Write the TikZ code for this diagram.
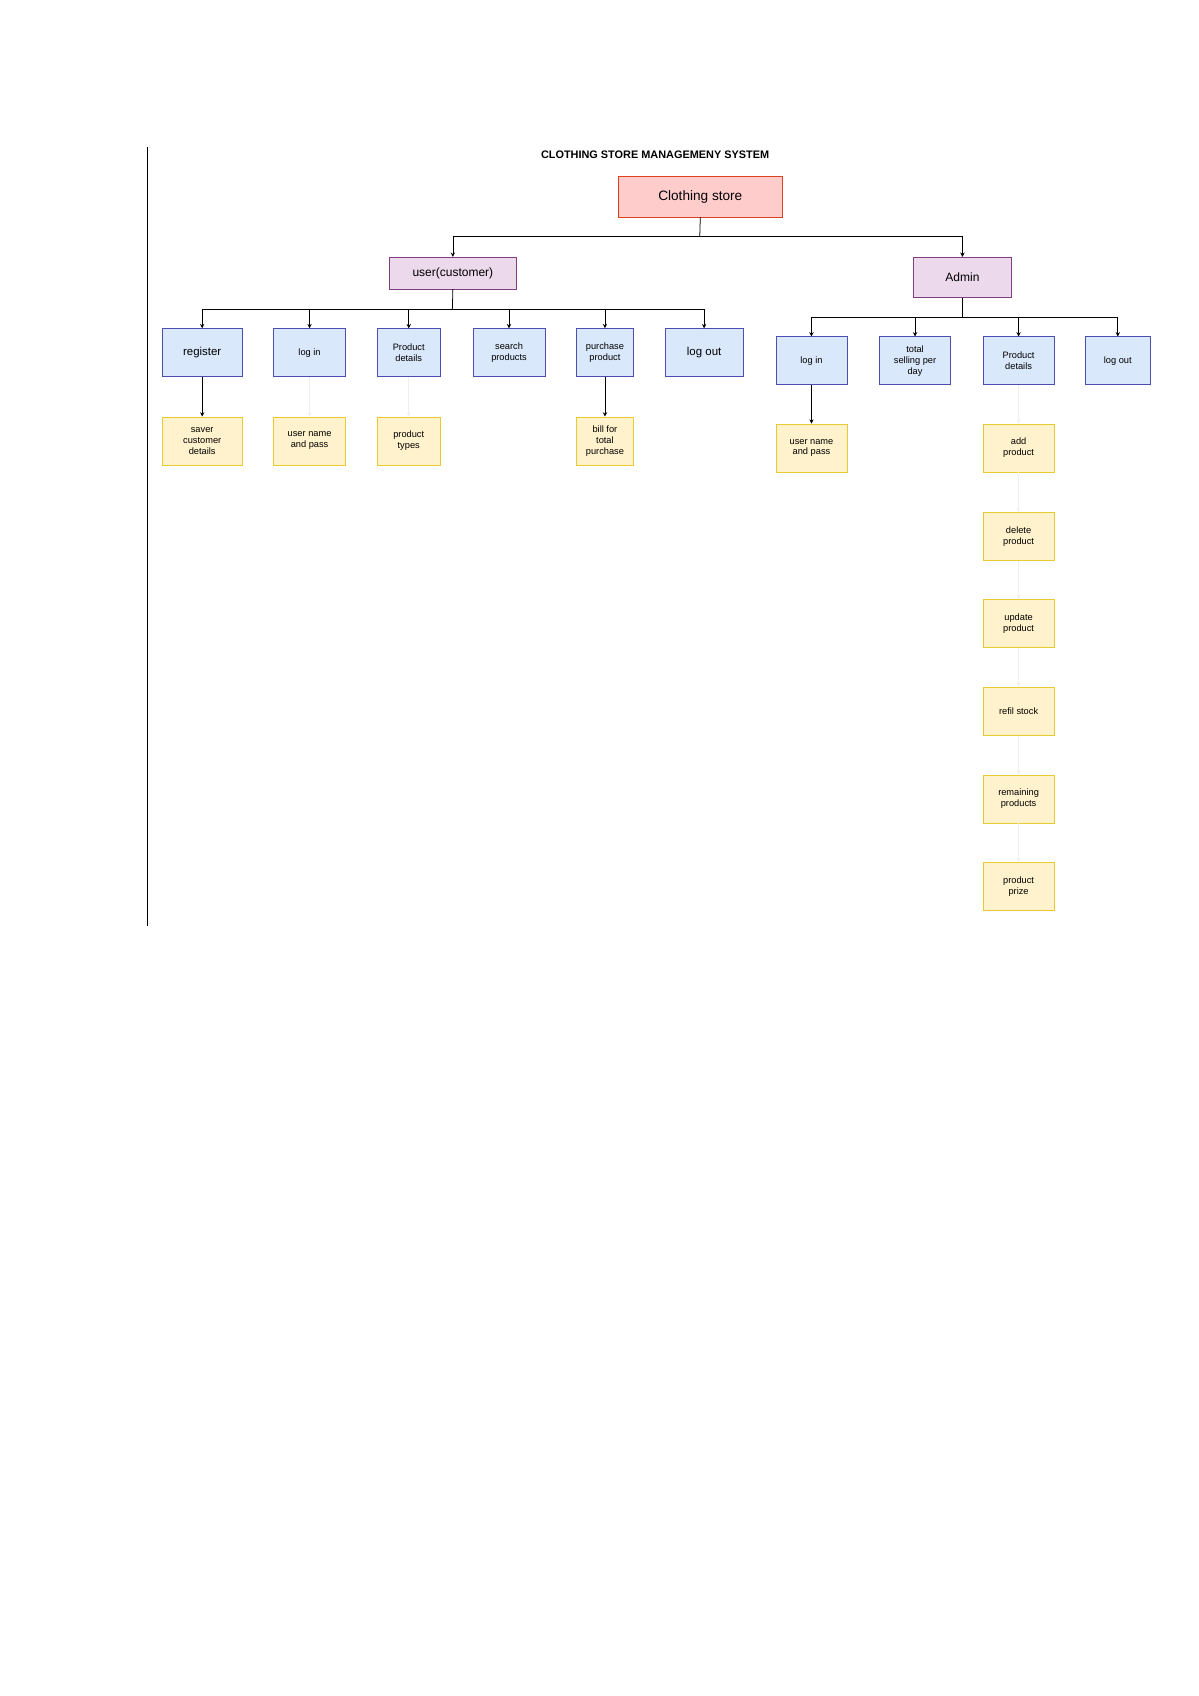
\documentclass[tikz,border=0pt]{standalone}
\usepackage{fontspec}
\setmainfont{Liberation Sans}
\usetikzlibrary{arrows.meta}
\begin{document}
\begin{tikzpicture}[x=1pt,y=-1pt,
  bx/.style={draw, minimum width=#1, inner sep=1pt, align=center, line width=0.6pt},
  blue/.style={bx=#1, fill=blue!12!cyan!8, draw=blue!40!gray, minimum height=44, font=\fontsize{8.5}{10}\selectfont},
  yel/.style={bx=#1, fill=yellow!25!orange!15, draw=yellow!60!brown, minimum height=44, font=\fontsize{8.5}{10}\selectfont},
  arr/.style={-{Stealth[length=4pt,width=4pt]}, line width=0.7pt},
  faint/.style={-{Stealth[length=4pt,width=4pt]}, draw=black!6, line width=0.5pt}]
\definecolor{pb}{HTML}{DAE8FC}\definecolor{py}{HTML}{FFF2CC}
\tikzset{blue/.append style={fill=pb},yel/.append style={fill=py}}
\useasboundingbox (0,0) rectangle (1100,1556);
\draw[line width=0.8pt] (135,135) -- (135,850);
\node[font=\bfseries\fontsize{10}{12}\selectfont] (title) at (601,142) {CLOTHING STORE MANAGEMENY SYSTEM};
\node[bx=151, minimum height=37, fill=red!20, draw=red!50!brown, font=\fontsize{12.5}{14}\selectfont] (root) at (642.5,180.5) {Clothing store};
\node[bx=117, minimum height=29, fill=violet!15, draw=violet!50!gray, font=\fontsize{11}{13}\selectfont] (user) at (415.5,250.5) {user(customer)};
\node[bx=90, minimum height=37, fill=violet!15, draw=violet!50!gray, font=\fontsize{11}{13}\selectfont] (admin) at (883,254.5) {Admin};
\coordinate (rj) at (642,217);
\draw[line width=0.7pt] (root.south) -- (rj);
\draw[arr] (rj) -| (user.north);
\draw[arr] (rj) -| (admin.north);
% user children
\node[blue=73, font=\fontsize{10.5}{12}\selectfont] (reg) at (185.5,323.5) {register};
\node[blue=66] (uli) at (284,323.5) {log in};
\node[blue=58] (upd) at (375,323.5) {Product\\details};
\node[blue=66] (usp) at (467,323.5) {search\\products};
\node[blue=52] (upp) at (555,323.5) {purchase\\product};
\node[blue=72, font=\fontsize{10.5}{12}\selectfont] (ulo) at (646,323.5) {log out};
\coordinate (uj) at (415,284);
\draw[line width=0.7pt] (user.south) -- (uj);
\foreach \n in {reg,uli,upd,usp,upp,ulo} \draw[arr] (uj) -| (\n.north);
\node[yel=73] (scd) at (185.5,404.5) {saver\\customer\\details};
\node[yel=66] (unp) at (284,404.5) {user name\\and pass};
\node[yel=58] (pty) at (375,404.5) {product\\types};
\node[yel=52] (bill) at (555,404.5) {bill for\\total\\purchase};
\draw[arr] (reg) -- (scd);
\draw[faint] (uli) -- (unp);
\draw[faint] (upd) -- (pty);
\draw[arr] (upp) -- (bill);
% admin children
\node[blue=65] (ali) at (744.5,331) {log in};
\node[blue=65] (ats) at (839.5,331) {total\\selling per\\day};
\node[blue=65] (apd) at (934.5,331) {Product\\details};
\node[blue=59] (alo) at (1025.5,331) {log out};
\coordinate (aj) at (883,291);
\draw[line width=0.7pt] (admin.south) -- (aj);
\foreach \n in {ali,ats,apd,alo} \draw[arr] (aj) -| (\n.north);
\node[yel=65] (aunp) at (744.5,411) {user name\\and pass};
\draw[arr] (ali) -- (aunp);
\node[yel=65] (add) at (934.5,411) {add\\product};
\node[yel=65] (del) at (934.5,492) {delete\\product};
\node[yel=65] (upd2) at (934.5,572) {update\\product};
\node[yel=65] (ref) at (934.5,652.5) {refil stock};
\node[yel=65] (rem) at (934.5,733) {remaining\\products};
\node[yel=65] (pri) at (934.5,813) {product\\prize};
\draw[faint] (apd) -- (add);
\draw[faint] (add) -- (del);
\draw[faint] (del) -- (upd2);
\draw[faint] (upd2) -- (ref);
\draw[faint] (ref) -- (rem);
\draw[faint] (rem) -- (pri);
\end{tikzpicture}
\end{document}
